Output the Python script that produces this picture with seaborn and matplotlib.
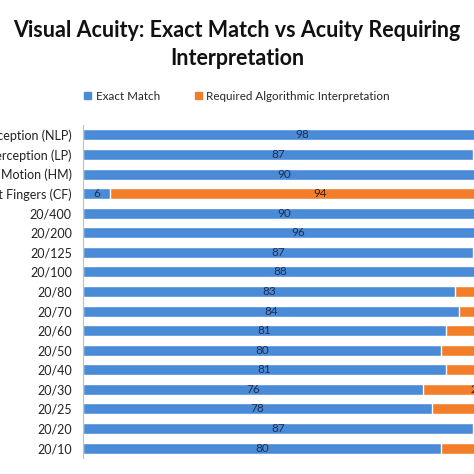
import matplotlib
matplotlib.use("Agg")
import matplotlib.pyplot as plt
from matplotlib.patches import Patch
import numpy as np
import pandas as pd
import seaborn as sns

categories = [
    "No Light Perception (NLP)",
    "Light Perception (LP)",
    "Hand Motion (HM)",
    "Count Fingers (CF)",
    "20/400", "20/200", "20/125", "20/100", "20/80", "20/70",
    "20/60", "20/50", "20/40", "20/30", "20/25", "20/20", "20/10",
]
exact_match = [98, 87, 90, 6, 90, 96, 87, 88, 83, 84, 81, 80, 81, 76, 78, 87, 80]
algorithmic = [2, 10, 10, 94, 10, 4, 10, 12, 17, 16, 19, 20, 19, 24, 22, 10, 20]
other = [0, 3, 0, 0, 0, 0, 3, 0, 0, 0, 0, 0, 0, 0, 0, 3, 0]

blue = "#4a8bd8"
orange = "#f27e2a"
grey = "#a5a5a5"
label_col = "#1f2f4f"

df = pd.DataFrame({
    "cat": categories,
    "exact": exact_match,
    "algo": algorithmic,
    "other": other,
})
df["exact_algo"] = df.exact + df.algo
df["total"] = df.exact_algo + df.other

sns.set_style("white")
plt.rcParams["font.family"] = ["Lato", "DejaVu Sans"]

fig = plt.figure(figsize=(4.74, 4.74), dpi=100)
ax = fig.add_axes([0.175, 0.034, 0.825, 0.702])
xmax = 87.3

sns.barplot(data=df, x="total", y="cat", color=grey, width=0.56,
            saturation=1, ax=ax)
sns.barplot(data=df, x="exact_algo", y="cat", color=orange, width=0.56,
            saturation=1, ax=ax)
sns.barplot(data=df, x="exact", y="cat", color=blue, width=0.56,
            saturation=1, ax=ax)

# value labels in the middle of each segment (the chart is cropped on the right,
# so only labels that start inside the visible area are drawn)
for i, row in df.iterrows():
    ax.text(row.exact / 2, i, f"{row.exact}", ha="center", va="center",
            fontsize=8.5, color=label_col)
    mid = row.exact + row.algo / 2
    if row.algo > 0 and mid < xmax + 1.5:
        ax.text(mid, i, f"{row.algo}", ha="center", va="center",
                fontsize=8.5, color="#3a1f0f")

ax.set_xlim(0, xmax)
ax.set_ylim(len(categories) - 0.5, -0.5)
ax.set_xlabel("")
ax.set_ylabel("")
ax.set_xticks([])
ax.tick_params(axis="y", length=0, pad=8, labelsize=9, labelcolor="#222222")
for s in ["top", "right", "bottom"]:
    ax.spines[s].set_visible(False)
ax.spines["left"].set_color("#bfbfbf")
ax.spines["left"].set_linewidth(0.8)

fig.text(0.5, 0.935, "Visual Acuity: Exact Match vs Acuity Requiring",
         ha="center", va="center", fontsize=15.5, fontweight="bold", color="#111111")
fig.text(0.5, 0.877, "Interpretation", ha="center", va="center",
         fontsize=15.5, fontweight="bold", color="#111111")

handles = [Patch(color=blue, label="Exact Match"),
           Patch(color=orange, label="Required Algorithmic Interpretation")]
fig.legend(handles=handles, loc="center", bbox_to_anchor=(0.5, 0.797),
           ncol=2, frameon=False, fontsize=8.4, handlelength=0.6,
           handleheight=0.6, handletextpad=0.4, columnspacing=3.0)

fig.savefig("out.png", dpi=100)
